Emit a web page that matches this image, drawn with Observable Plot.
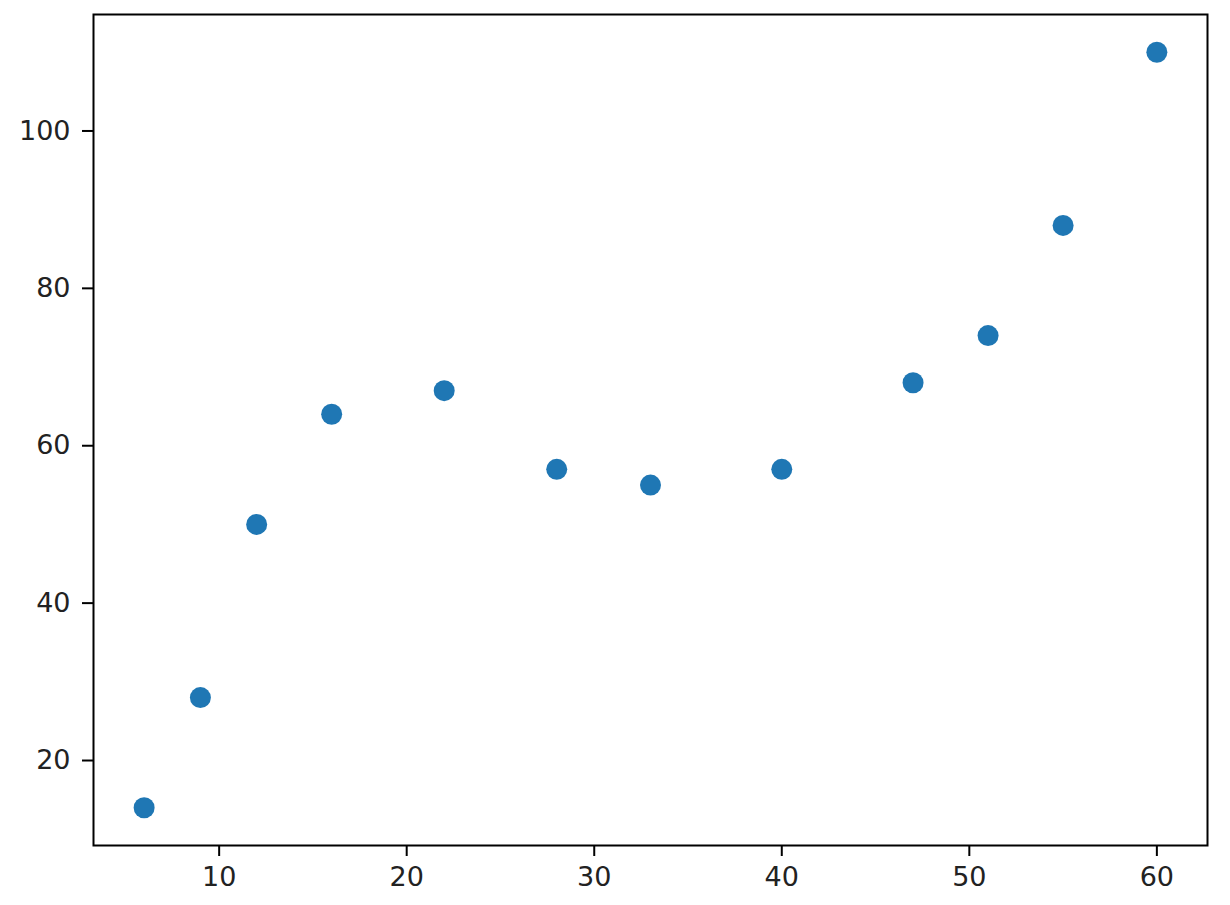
<!DOCTYPE html>
<html>
<head>
<meta charset="utf-8">
<script src="https://cdn.jsdelivr.net/npm/d3@7"></script>
<script src="https://cdn.jsdelivr.net/npm/@observablehq/plot@0.6"></script>
<style>
  html, body { margin: 0; padding: 0; background: #fff; }
</style>
</head>
<body>
<div id="chart"></div>
<script>
const xValues = [6, 9, 12, 16, 22, 28, 33, 40, 47, 51, 55, 60];
const yValues = [14, 28, 50, 64, 67, 57, 55, 57, 68, 74, 88, 110];
const xTicks = [10, 20, 30, 40, 50, 60];
const yTicks = [20, 40, 60, 80, 100];

const data = xValues.map((x, i) => ({x, y: yValues[i]}));

const chart = Plot.plot({
  width: 1230,
  height: 905,
  marginLeft: 93,
  marginRight: 23,
  marginTop: 14,
  marginBottom: 60,
  style: {fontFamily: "DejaVu Sans", fontSize: "27px", color: "#222", background: "#fff"},
  x: {domain: [3.3, 62.7], ticks: xTicks, label: null},
  y: {domain: [9.2, 114.8], ticks: yTicks, label: null},
  marks: [
    Plot.dot(data, {x: "x", y: "y", r: 10.5, fill: "#1f77b4", stroke: "none"}),
    Plot.axisX({ticks: xTicks, tickSize: 11, tickPadding: 10, stroke: "#000", strokeWidth: 2, fill: "#222", label: null}),
    Plot.axisY({ticks: yTicks, tickSize: 11, tickPadding: 12, stroke: "#000", strokeWidth: 2, fill: "#222", label: null}),
    Plot.frame({stroke: "#000", strokeWidth: 2})
  ]
});
document.getElementById("chart").appendChild(chart);
</script>
</body>
</html>
